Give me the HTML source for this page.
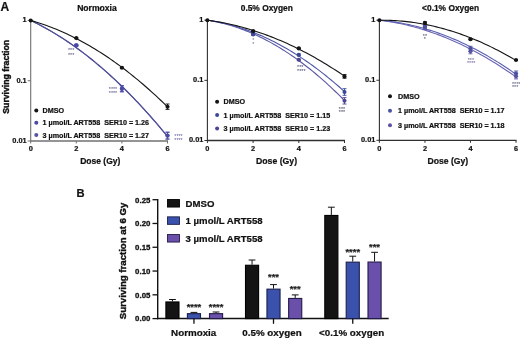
<!DOCTYPE html>
<html><head><meta charset="utf-8"><style>html,body{margin:0;padding:0;background:#fff;}svg{display:block;}</style></head>
<body>
<svg width="520" height="339" viewBox="0 0 520 339" font-family="'Liberation Sans', Arial, sans-serif">
<rect width="520" height="339" fill="#fff"/>
<text x="0.40" y="10.90" font-size="12" text-anchor="start" fill="#111" font-weight="bold" stroke="#111" stroke-width="0.22" >A</text>
<text x="76.60" y="197.40" font-size="11.2" text-anchor="start" fill="#111" font-weight="bold" stroke="#111" stroke-width="0.22" >B</text>
<text x="0.00" y="0.00" font-size="8.7" text-anchor="middle" fill="#111" font-weight="bold" stroke="#111" stroke-width="0.4" transform="translate(9.3,76.8) rotate(-90)">Surviving fraction</text>
<text x="96.95" y="11.00" font-size="8.6" text-anchor="middle" fill="#111" font-weight="bold" stroke="#111" stroke-width="0.22" >Normoxia</text>
<line x1="30.70" y1="19.50" x2="30.70" y2="141.50" stroke="#707070" stroke-width="1.1"/>
<line x1="30.20" y1="141.00" x2="168.00" y2="141.00" stroke="#707070" stroke-width="1.3"/>
<line x1="27.70" y1="20.50" x2="30.70" y2="20.50" stroke="#707070" stroke-width="1"/>
<text x="26.70" y="22.30" font-size="7.4" text-anchor="end" fill="#111" font-weight="bold" stroke="#111" stroke-width="0.22" >1</text>
<line x1="27.70" y1="80.75" x2="30.70" y2="80.75" stroke="#707070" stroke-width="1"/>
<text x="26.70" y="82.55" font-size="7.4" text-anchor="end" fill="#111" font-weight="bold" stroke="#111" stroke-width="0.22" >0.1</text>
<line x1="27.70" y1="141.00" x2="30.70" y2="141.00" stroke="#707070" stroke-width="1"/>
<text x="26.70" y="142.80" font-size="7.4" text-anchor="end" fill="#111" font-weight="bold" stroke="#111" stroke-width="0.22" >0.01</text>
<line x1="30.70" y1="141.00" x2="30.70" y2="143.50" stroke="#707070" stroke-width="1"/>
<text x="30.70" y="151.40" font-size="7.4" text-anchor="middle" fill="#111" font-weight="bold" stroke="#111" stroke-width="0.22" >0</text>
<line x1="76.30" y1="141.00" x2="76.30" y2="143.50" stroke="#707070" stroke-width="1"/>
<text x="76.30" y="151.40" font-size="7.4" text-anchor="middle" fill="#111" font-weight="bold" stroke="#111" stroke-width="0.22" >2</text>
<line x1="121.90" y1="141.00" x2="121.90" y2="143.50" stroke="#707070" stroke-width="1"/>
<text x="121.90" y="151.40" font-size="7.4" text-anchor="middle" fill="#111" font-weight="bold" stroke="#111" stroke-width="0.22" >4</text>
<line x1="167.50" y1="141.00" x2="167.50" y2="143.50" stroke="#707070" stroke-width="1"/>
<text x="167.50" y="151.40" font-size="7.4" text-anchor="middle" fill="#111" font-weight="bold" stroke="#111" stroke-width="0.22" >6</text>
<text x="100.30" y="163.60" font-size="8.5" text-anchor="middle" fill="#111" font-weight="bold" stroke="#111" stroke-width="0.22" >Dose (Gy)</text>
<polyline points="30.70,20.50 32.98,21.59 35.26,22.72 37.54,23.87 39.82,25.05 42.10,26.26 44.38,27.49 46.66,28.76 48.94,30.05 51.22,31.37 53.50,32.73 55.78,34.10 58.06,35.51 60.34,36.95 62.62,38.41 64.90,39.91 67.18,41.43 69.46,42.98 71.74,44.56 74.02,46.16 76.30,47.80 78.58,49.46 80.86,51.16 83.14,52.88 85.42,54.63 87.70,56.41 89.98,58.21 92.26,60.05 94.54,61.91 96.82,63.80 99.10,65.73 101.38,67.67 103.66,69.65 105.94,71.66 108.22,73.69 110.50,75.76 112.78,77.85 115.06,79.97 117.34,82.12 119.62,84.29 121.90,86.50 124.18,88.73 126.46,91.00 128.74,93.29 131.02,95.61 133.30,97.96 135.58,100.33 137.86,102.74 140.14,105.17 142.42,107.63 144.70,110.12 146.98,112.64 149.26,115.19 151.54,117.77 153.82,120.37 156.10,123.01 158.38,125.67 160.66,128.36 162.94,131.08 165.22,133.82 167.50,136.60" fill="none" stroke="#535098" stroke-width="1.1"/>
<polyline points="30.70,20.50 32.98,21.58 35.26,22.69 37.54,23.83 39.82,25.00 42.10,26.20 44.38,27.42 46.66,28.68 48.94,29.96 51.22,31.27 53.50,32.61 55.78,33.98 58.06,35.38 60.34,36.81 62.62,38.26 64.90,39.75 67.18,41.26 69.46,42.80 71.74,44.37 74.02,45.97 76.30,47.60 78.58,49.26 80.86,50.94 83.14,52.66 85.42,54.40 87.70,56.17 89.98,57.97 92.26,59.80 94.54,61.66 96.82,63.55 99.10,65.46 101.38,67.41 103.66,69.38 105.94,71.38 108.22,73.41 110.50,75.47 112.78,77.56 115.06,79.68 117.34,81.82 119.62,84.00 121.90,86.20 124.18,88.43 126.46,90.69 128.74,92.98 131.02,95.30 133.30,97.65 135.58,100.02 137.86,102.43 140.14,104.86 142.42,107.32 144.70,109.81 146.98,112.33 149.26,114.88 151.54,117.46 153.82,120.06 156.10,122.70 158.38,125.36 160.66,128.05 162.94,130.77 165.22,133.52 167.50,136.30" fill="none" stroke="#50509a" stroke-width="1.1"/>
<polyline points="30.70,20.50 32.98,21.15 35.26,21.82 37.54,22.52 39.82,23.25 42.10,24.01 44.38,24.79 46.66,25.60 48.94,26.44 51.22,27.30 53.50,28.19 55.78,29.10 58.06,30.05 60.34,31.02 62.62,32.01 64.90,33.04 67.18,34.09 69.46,35.17 71.74,36.27 74.02,37.40 76.30,38.56 78.58,39.74 80.86,40.95 83.14,42.19 85.42,43.46 87.70,44.75 89.98,46.07 92.26,47.41 94.54,48.78 96.82,50.18 99.10,51.61 101.38,53.06 103.66,54.54 105.94,56.05 108.22,57.58 110.50,59.14 112.78,60.73 115.06,62.34 117.34,63.98 119.62,65.65 121.90,67.34 124.18,69.06 126.46,70.81 128.74,72.58 131.02,74.39 133.30,76.21 135.58,78.07 137.86,79.95 140.14,81.86 142.42,83.79 144.70,85.76 146.98,87.75 149.26,89.76 151.54,91.80 153.82,93.87 156.10,95.97 158.38,98.09 160.66,100.24 162.94,102.42 165.22,104.62 167.50,106.85" fill="none" stroke="#141414" stroke-width="1.1"/>
<path d="M76.30 44.60V46.20M74.30 44.60H78.30M74.30 46.20H78.30" stroke="#5552a8" stroke-width="0.9" fill="none"/>
<path d="M121.90 85.90V91.90M119.90 85.90H123.90M119.90 91.90H123.90" stroke="#5552a8" stroke-width="0.9" fill="none"/>
<path d="M167.50 132.40V139.20M165.50 132.40H169.50M165.50 139.20H169.50" stroke="#5552a8" stroke-width="0.9" fill="none"/>
<path d="M76.30 44.40V46.00M74.30 44.40H78.30M74.30 46.00H78.30" stroke="#4a4aa6" stroke-width="0.9" fill="none"/>
<path d="M121.90 85.60V91.60M119.90 85.60H123.90M119.90 91.60H123.90" stroke="#4a4aa6" stroke-width="0.9" fill="none"/>
<path d="M167.50 132.10V138.90M165.50 132.10H169.50M165.50 138.90H169.50" stroke="#4a4aa6" stroke-width="0.9" fill="none"/>
<path d="M76.30 37.60V38.60M74.30 37.60H78.30M74.30 38.60H78.30" stroke="#141414" stroke-width="0.9" fill="none"/>
<path d="M121.90 67.20V68.40M119.90 67.20H123.90M119.90 68.40H123.90" stroke="#141414" stroke-width="0.9" fill="none"/>
<path d="M167.50 104.00V109.40M165.50 104.00H169.50M165.50 109.40H169.50" stroke="#141414" stroke-width="0.9" fill="none"/>
<circle cx="76.30" cy="45.40" r="2.05" fill="#5552a8"/>
<circle cx="121.90" cy="88.90" r="2.05" fill="#5552a8"/>
<circle cx="167.50" cy="135.80" r="2.05" fill="#5552a8"/>
<circle cx="76.30" cy="45.20" r="2.05" fill="#4a4aa6"/>
<circle cx="121.90" cy="88.60" r="2.05" fill="#4a4aa6"/>
<circle cx="167.50" cy="135.50" r="2.05" fill="#4a4aa6"/>
<circle cx="76.30" cy="38.10" r="2.05" fill="#141414"/>
<circle cx="121.90" cy="67.80" r="2.05" fill="#141414"/>
<circle cx="167.50" cy="106.70" r="2.05" fill="#141414"/>
<circle cx="30.70" cy="20.50" r="2.05" fill="#141414"/>
<circle cx="36.30" cy="110.50" r="2.0" fill="#141414"/>
<text x="42.50" y="113.10" font-size="7.2" text-anchor="start" fill="#111" font-weight="bold" stroke="#111" stroke-width="0.22" xml:space="preserve" style="white-space:pre">DMSO</text>
<circle cx="36.30" cy="122.80" r="2.0" fill="#4a4aa6"/>
<text x="42.50" y="125.40" font-size="7.2" text-anchor="start" fill="#111" font-weight="bold" stroke="#111" stroke-width="0.22" xml:space="preserve" style="white-space:pre">1 µmol/L ART558  SER10 = 1.26</text>
<circle cx="36.30" cy="135.10" r="2.0" fill="#5552a8"/>
<text x="42.50" y="137.70" font-size="7.2" text-anchor="start" fill="#111" font-weight="bold" stroke="#111" stroke-width="0.22" xml:space="preserve" style="white-space:pre">3 µmol/L ART558  SER10 = 1.27</text>
<text x="68.00" y="51.90" font-size="5.4" text-anchor="start" fill="#4a4a78" font-weight="normal"  >***</text>
<text x="68.00" y="56.60" font-size="5.4" text-anchor="start" fill="#4a4a78" font-weight="normal"  >***</text>
<text x="108.80" y="90.90" font-size="5.4" text-anchor="start" fill="#4a4a88" font-weight="normal"  >****</text>
<text x="108.80" y="95.10" font-size="5.4" text-anchor="start" fill="#4a4a88" font-weight="normal"  >****</text>
<text x="174.30" y="137.60" font-size="5.4" text-anchor="start" fill="#5a5aa0" font-weight="normal"  >****</text>
<text x="174.30" y="141.60" font-size="5.4" text-anchor="start" fill="#5a5aa0" font-weight="normal"  >****</text>
<text x="266.80" y="11.00" font-size="8.4" text-anchor="middle" fill="#111" font-weight="bold" stroke="#111" stroke-width="0.22" >0.5% Oxygen</text>
<line x1="207.40" y1="19.20" x2="207.40" y2="141.00" stroke="#303030" stroke-width="1.1"/>
<line x1="206.90" y1="140.50" x2="345.00" y2="140.50" stroke="#303030" stroke-width="1.3"/>
<line x1="204.40" y1="20.20" x2="207.40" y2="20.20" stroke="#303030" stroke-width="1"/>
<text x="203.40" y="22.00" font-size="7.4" text-anchor="end" fill="#111" font-weight="bold" stroke="#111" stroke-width="0.22" >1</text>
<line x1="204.40" y1="80.35" x2="207.40" y2="80.35" stroke="#303030" stroke-width="1"/>
<text x="203.40" y="82.15" font-size="7.4" text-anchor="end" fill="#111" font-weight="bold" stroke="#111" stroke-width="0.22" >0.1</text>
<line x1="204.40" y1="140.50" x2="207.40" y2="140.50" stroke="#303030" stroke-width="1"/>
<text x="203.40" y="142.30" font-size="7.4" text-anchor="end" fill="#111" font-weight="bold" stroke="#111" stroke-width="0.22" >0.01</text>
<line x1="207.40" y1="140.50" x2="207.40" y2="143.00" stroke="#303030" stroke-width="1"/>
<text x="207.40" y="150.90" font-size="7.4" text-anchor="middle" fill="#111" font-weight="bold" stroke="#111" stroke-width="0.22" >0</text>
<line x1="253.10" y1="140.50" x2="253.10" y2="143.00" stroke="#303030" stroke-width="1"/>
<text x="253.10" y="150.90" font-size="7.4" text-anchor="middle" fill="#111" font-weight="bold" stroke="#111" stroke-width="0.22" >2</text>
<line x1="298.80" y1="140.50" x2="298.80" y2="143.00" stroke="#303030" stroke-width="1"/>
<text x="298.80" y="150.90" font-size="7.4" text-anchor="middle" fill="#111" font-weight="bold" stroke="#111" stroke-width="0.22" >4</text>
<line x1="344.50" y1="140.50" x2="344.50" y2="143.00" stroke="#303030" stroke-width="1"/>
<text x="344.50" y="150.90" font-size="7.4" text-anchor="middle" fill="#111" font-weight="bold" stroke="#111" stroke-width="0.22" >6</text>
<text x="276.55" y="164.20" font-size="8.7" text-anchor="middle" fill="#111" font-weight="bold" stroke="#111" stroke-width="0.22" >Dose (Gy)</text>
<polyline points="207.40,20.20 209.69,20.56 211.97,20.96 214.25,21.39 216.54,21.85 218.83,22.35 221.11,22.88 223.40,23.44 225.68,24.04 227.97,24.66 230.25,25.33 232.54,26.02 234.82,26.75 237.11,27.51 239.39,28.30 241.68,29.13 243.96,29.99 246.25,30.88 248.53,31.81 250.81,32.77 253.10,33.76 255.39,34.78 257.67,35.84 259.96,36.93 262.24,38.06 264.52,39.21 266.81,40.40 269.10,41.63 271.38,42.88 273.67,44.17 275.95,45.50 278.24,46.85 280.52,48.24 282.81,49.66 285.09,51.12 287.38,52.61 289.66,54.13 291.95,55.68 294.23,57.27 296.51,58.89 298.80,60.54 301.09,62.23 303.37,63.95 305.65,65.70 307.94,67.49 310.23,69.30 312.51,71.16 314.80,73.04 317.08,74.96 319.37,76.91 321.65,78.89 323.94,80.91 326.22,82.96 328.50,85.04 330.79,87.16 333.08,89.31 335.36,91.49 337.64,93.71 339.93,95.96 342.22,98.24 344.50,100.55" fill="none" stroke="#5a56a4" stroke-width="1.1"/>
<polyline points="207.40,20.20 209.69,20.53 211.97,20.88 214.25,21.27 216.54,21.68 218.83,22.13 221.11,22.60 223.40,23.10 225.68,23.64 227.97,24.20 230.25,24.79 232.54,25.41 234.82,26.06 237.11,26.73 239.39,27.44 241.68,28.18 243.96,28.94 246.25,29.74 248.53,30.56 250.81,31.42 253.10,32.30 255.39,33.21 257.67,34.15 259.96,35.12 262.24,36.12 264.52,37.15 266.81,38.21 269.10,39.30 271.38,40.42 273.67,41.56 275.95,42.74 278.24,43.94 280.52,45.18 282.81,46.44 285.09,47.73 287.38,49.05 289.66,50.40 291.95,51.78 294.23,53.19 296.51,54.63 298.80,56.10 301.09,57.60 303.37,59.12 305.65,60.68 307.94,62.26 310.23,63.88 312.51,65.52 314.80,67.19 317.08,68.90 319.37,70.63 321.65,72.39 323.94,74.18 326.22,76.00 328.50,77.84 330.79,79.72 333.08,81.63 335.36,83.56 337.64,85.53 339.93,87.52 342.22,89.55 344.50,91.60" fill="none" stroke="#4a56a6" stroke-width="1.1"/>
<polyline points="207.40,20.20 209.69,20.51 211.97,20.84 214.25,21.20 216.54,21.57 218.83,21.96 221.11,22.38 223.40,22.82 225.68,23.28 227.97,23.76 230.25,24.26 232.54,24.78 234.82,25.32 237.11,25.88 239.39,26.47 241.68,27.07 243.96,27.70 246.25,28.35 248.53,29.02 250.81,29.71 253.10,30.42 255.39,31.15 257.67,31.91 259.96,32.68 262.24,33.48 264.52,34.29 266.81,35.13 269.10,35.99 271.38,36.87 273.67,37.77 275.95,38.70 278.24,39.64 280.52,40.60 282.81,41.59 285.09,42.60 287.38,43.62 289.66,44.67 291.95,45.74 294.23,46.83 296.51,47.95 298.80,49.08 301.09,50.23 303.37,51.41 305.65,52.61 307.94,53.82 310.23,55.06 312.51,56.32 314.80,57.60 317.08,58.90 319.37,60.23 321.65,61.57 323.94,62.94 326.22,64.32 328.50,65.73 330.79,67.16 333.08,68.61 335.36,70.08 337.64,71.57 339.93,73.08 342.22,74.62 344.50,76.17" fill="none" stroke="#141414" stroke-width="1.1"/>
<path d="M253.10 33.70V35.30M251.10 33.70H255.10M251.10 35.30H255.10" stroke="#4a4494" stroke-width="0.9" fill="none"/>
<path d="M298.80 59.00V60.60M296.80 59.00H300.80M296.80 60.60H300.80" stroke="#4a4494" stroke-width="0.9" fill="none"/>
<path d="M344.50 97.60V104.00M342.50 97.60H346.50M342.50 104.00H346.50" stroke="#4a4494" stroke-width="0.9" fill="none"/>
<path d="M253.10 32.70V34.30M251.10 32.70H255.10M251.10 34.30H255.10" stroke="#3a4696" stroke-width="0.9" fill="none"/>
<path d="M298.80 54.10V55.70M296.80 54.10H300.80M296.80 55.70H300.80" stroke="#3a4696" stroke-width="0.9" fill="none"/>
<path d="M344.50 88.70V95.30M342.50 88.70H346.50M342.50 95.30H346.50" stroke="#3a4696" stroke-width="0.9" fill="none"/>
<path d="M253.10 30.60V31.60M251.10 30.60H255.10M251.10 31.60H255.10" stroke="#141414" stroke-width="0.9" fill="none"/>
<path d="M298.80 47.90V48.90M296.80 47.90H300.80M296.80 48.90H300.80" stroke="#141414" stroke-width="0.9" fill="none"/>
<path d="M344.50 74.60V78.20M342.50 74.60H346.50M342.50 78.20H346.50" stroke="#141414" stroke-width="0.9" fill="none"/>
<circle cx="253.10" cy="34.50" r="2.05" fill="#4a4494"/>
<circle cx="298.80" cy="59.80" r="2.05" fill="#4a4494"/>
<circle cx="344.50" cy="100.80" r="2.05" fill="#4a4494"/>
<circle cx="253.10" cy="33.50" r="2.05" fill="#3a4696"/>
<circle cx="298.80" cy="54.90" r="2.05" fill="#3a4696"/>
<circle cx="344.50" cy="92.00" r="2.05" fill="#3a4696"/>
<circle cx="253.10" cy="31.10" r="2.05" fill="#141414"/>
<circle cx="298.80" cy="48.40" r="2.05" fill="#141414"/>
<circle cx="344.50" cy="76.40" r="2.05" fill="#141414"/>
<circle cx="207.40" cy="20.20" r="2.05" fill="#141414"/>
<circle cx="217.10" cy="101.70" r="2.0" fill="#141414"/>
<text x="223.60" y="104.30" font-size="7.2" text-anchor="start" fill="#111" font-weight="bold" stroke="#111" stroke-width="0.22" xml:space="preserve" style="white-space:pre">DMSO</text>
<circle cx="217.10" cy="115.10" r="2.0" fill="#3a4696"/>
<text x="223.60" y="117.70" font-size="7.2" text-anchor="start" fill="#111" font-weight="bold" stroke="#111" stroke-width="0.22" xml:space="preserve" style="white-space:pre">1 µmol/L ART558  SER10 = 1.15</text>
<circle cx="217.10" cy="128.50" r="2.0" fill="#4a4494"/>
<text x="223.60" y="131.10" font-size="7.2" text-anchor="start" fill="#111" font-weight="bold" stroke="#111" stroke-width="0.22" xml:space="preserve" style="white-space:pre">3 µmol/L ART558  SER10 = 1.23</text>
<text x="253.30" y="42.20" font-size="5.4" text-anchor="middle" fill="#6a6a9a" font-weight="normal"  >*</text>
<text x="253.30" y="46.10" font-size="5.4" text-anchor="middle" fill="#6a6a9a" font-weight="normal"  >*</text>
<text x="297.10" y="69.10" font-size="5.4" text-anchor="start" fill="#3a3a6a" font-weight="normal"  >***</text>
<text x="297.10" y="72.70" font-size="5.4" text-anchor="start" fill="#3a3a6a" font-weight="normal"  >****</text>
<text x="338.80" y="111.20" font-size="5.4" text-anchor="start" fill="#333355" font-weight="normal"  >***</text>
<text x="338.80" y="114.30" font-size="5.4" text-anchor="start" fill="#333355" font-weight="normal"  >***</text>
<text x="450.60" y="11.00" font-size="8.4" text-anchor="middle" fill="#111" font-weight="bold" stroke="#111" stroke-width="0.22" >&lt;0.1% Oxygen</text>
<line x1="379.40" y1="19.20" x2="379.40" y2="140.80" stroke="#303030" stroke-width="1.1"/>
<line x1="378.90" y1="140.30" x2="516.52" y2="140.30" stroke="#303030" stroke-width="1.3"/>
<line x1="376.40" y1="20.20" x2="379.40" y2="20.20" stroke="#303030" stroke-width="1"/>
<text x="375.40" y="22.00" font-size="7.4" text-anchor="end" fill="#111" font-weight="bold" stroke="#111" stroke-width="0.22" >1</text>
<line x1="376.40" y1="80.25" x2="379.40" y2="80.25" stroke="#303030" stroke-width="1"/>
<text x="375.40" y="82.05" font-size="7.4" text-anchor="end" fill="#111" font-weight="bold" stroke="#111" stroke-width="0.22" >0.1</text>
<line x1="376.40" y1="140.30" x2="379.40" y2="140.30" stroke="#303030" stroke-width="1"/>
<text x="375.40" y="142.10" font-size="7.4" text-anchor="end" fill="#111" font-weight="bold" stroke="#111" stroke-width="0.22" >0.01</text>
<line x1="379.40" y1="140.30" x2="379.40" y2="142.80" stroke="#303030" stroke-width="1"/>
<text x="379.40" y="150.70" font-size="7.4" text-anchor="middle" fill="#111" font-weight="bold" stroke="#111" stroke-width="0.22" >0</text>
<line x1="424.94" y1="140.30" x2="424.94" y2="142.80" stroke="#303030" stroke-width="1"/>
<text x="424.94" y="150.70" font-size="7.4" text-anchor="middle" fill="#111" font-weight="bold" stroke="#111" stroke-width="0.22" >2</text>
<line x1="470.48" y1="140.30" x2="470.48" y2="142.80" stroke="#303030" stroke-width="1"/>
<text x="470.48" y="150.70" font-size="7.4" text-anchor="middle" fill="#111" font-weight="bold" stroke="#111" stroke-width="0.22" >4</text>
<line x1="516.02" y1="140.30" x2="516.02" y2="142.80" stroke="#303030" stroke-width="1"/>
<text x="516.02" y="150.70" font-size="7.4" text-anchor="middle" fill="#111" font-weight="bold" stroke="#111" stroke-width="0.22" >6</text>
<text x="447.91" y="164.00" font-size="8.6" text-anchor="middle" fill="#111" font-weight="bold" stroke="#111" stroke-width="0.22" >Dose (Gy)</text>
<polyline points="379.40,20.20 381.68,20.48 383.95,20.79 386.23,21.12 388.51,21.47 390.78,21.84 393.06,22.23 395.34,22.65 397.62,23.09 399.89,23.55 402.17,24.04 404.45,24.55 406.72,25.08 409.00,25.63 411.28,26.21 413.55,26.80 415.83,27.42 418.11,28.07 420.39,28.73 422.66,29.42 424.94,30.13 427.22,30.86 429.49,31.62 431.77,32.40 434.05,33.20 436.32,34.02 438.60,34.87 440.88,35.74 443.16,36.63 445.43,37.54 447.71,38.47 449.99,39.43 452.26,40.41 454.54,41.42 456.82,42.44 459.09,43.49 461.37,44.56 463.65,45.65 465.93,46.77 468.20,47.91 470.48,49.07 472.76,50.25 475.03,51.46 477.31,52.69 479.59,53.94 481.87,55.21 484.14,56.51 486.42,57.82 488.70,59.16 490.97,60.53 493.25,61.91 495.53,63.32 497.80,64.75 500.08,66.21 502.36,67.68 504.63,69.18 506.91,70.70 509.19,72.25 511.47,73.81 513.74,75.40 516.02,77.01" fill="none" stroke="#6c66b4" stroke-width="1.1"/>
<polyline points="379.40,20.20 381.68,20.40 383.95,20.63 386.23,20.87 388.51,21.15 390.78,21.44 393.06,21.76 395.34,22.10 397.62,22.47 399.89,22.86 402.17,23.28 404.45,23.72 406.72,24.18 409.00,24.66 411.28,25.17 413.55,25.71 415.83,26.26 418.11,26.85 420.39,27.45 422.66,28.08 424.94,28.73 427.22,29.41 429.49,30.11 431.77,30.83 434.05,31.58 436.32,32.35 438.60,33.14 440.88,33.96 443.16,34.81 445.43,35.67 447.71,36.56 449.99,37.48 452.26,38.41 454.54,39.37 456.82,40.36 459.09,41.37 461.37,42.40 463.65,43.46 465.93,44.54 468.20,45.64 470.48,46.77 472.76,47.92 475.03,49.09 477.31,50.29 479.59,51.52 481.87,52.76 484.14,54.03 486.42,55.33 488.70,56.64 490.97,57.99 493.25,59.35 495.53,60.74 497.80,62.15 500.08,63.59 502.36,65.05 504.63,66.53 506.91,68.04 509.19,69.57 511.47,71.13 513.74,72.71 516.02,74.31" fill="none" stroke="#5a60b0" stroke-width="1.1"/>
<polyline points="379.40,20.20 381.68,20.19 383.95,20.20 386.23,20.24 388.51,20.30 390.78,20.38 393.06,20.48 395.34,20.61 397.62,20.76 399.89,20.94 402.17,21.14 404.45,21.36 406.72,21.60 409.00,21.87 411.28,22.16 413.55,22.47 415.83,22.81 418.11,23.17 420.39,23.55 422.66,23.96 424.94,24.38 427.22,24.84 429.49,25.31 431.77,25.81 434.05,26.33 436.32,26.88 438.60,27.44 440.88,28.03 443.16,28.65 445.43,29.28 447.71,29.94 449.99,30.63 452.26,31.33 454.54,32.06 456.82,32.82 459.09,33.59 461.37,34.39 463.65,35.21 465.93,36.06 468.20,36.92 470.48,37.82 472.76,38.73 475.03,39.67 477.31,40.63 479.59,41.61 481.87,42.62 484.14,43.65 486.42,44.70 488.70,45.78 490.97,46.88 493.25,48.00 495.53,49.14 497.80,50.31 500.08,51.51 502.36,52.72 504.63,53.96 506.91,55.22 509.19,56.50 511.47,57.81 513.74,59.14 516.02,60.49" fill="none" stroke="#141414" stroke-width="1.1"/>
<path d="M424.94 26.80V29.20M422.94 26.80H426.94M422.94 29.20H426.94" stroke="#5a54a2" stroke-width="0.9" fill="none"/>
<path d="M470.48 48.60V53.80M468.48 48.60H472.48M468.48 53.80H472.48" stroke="#5a54a2" stroke-width="0.9" fill="none"/>
<path d="M516.02 73.70V78.90M514.02 73.70H518.02M514.02 78.90H518.02" stroke="#5a54a2" stroke-width="0.9" fill="none"/>
<path d="M424.94 25.40V27.80M422.94 25.40H426.94M422.94 27.80H426.94" stroke="#4a52a0" stroke-width="0.9" fill="none"/>
<path d="M470.48 46.30V51.50M468.48 46.30H472.48M468.48 51.50H472.48" stroke="#4a52a0" stroke-width="0.9" fill="none"/>
<path d="M516.02 71.00V76.20M514.02 71.00H518.02M514.02 76.20H518.02" stroke="#4a52a0" stroke-width="0.9" fill="none"/>
<path d="M424.94 21.90V23.90M422.94 21.90H426.94M422.94 23.90H426.94" stroke="#141414" stroke-width="0.9" fill="none"/>
<path d="M470.48 38.80V39.80M468.48 38.80H472.48M468.48 39.80H472.48" stroke="#141414" stroke-width="0.9" fill="none"/>
<path d="M516.02 59.50V60.50M514.02 59.50H518.02M514.02 60.50H518.02" stroke="#141414" stroke-width="0.9" fill="none"/>
<circle cx="424.94" cy="28.00" r="2.05" fill="#5a54a2"/>
<circle cx="470.48" cy="51.20" r="2.05" fill="#5a54a2"/>
<circle cx="516.02" cy="76.30" r="2.05" fill="#5a54a2"/>
<circle cx="424.94" cy="26.60" r="2.05" fill="#4a52a0"/>
<circle cx="470.48" cy="48.90" r="2.05" fill="#4a52a0"/>
<circle cx="516.02" cy="73.60" r="2.05" fill="#4a52a0"/>
<circle cx="424.94" cy="22.90" r="2.05" fill="#141414"/>
<circle cx="470.48" cy="39.30" r="2.05" fill="#141414"/>
<circle cx="516.02" cy="60.00" r="2.05" fill="#141414"/>
<circle cx="379.40" cy="20.20" r="2.05" fill="#141414"/>
<circle cx="390.00" cy="96.20" r="2.0" fill="#141414"/>
<text x="398.00" y="98.80" font-size="7.2" text-anchor="start" fill="#111" font-weight="bold" stroke="#111" stroke-width="0.22" xml:space="preserve" style="white-space:pre">DMSO</text>
<circle cx="390.00" cy="110.70" r="2.0" fill="#4a52a0"/>
<text x="398.00" y="113.30" font-size="7.2" text-anchor="start" fill="#111" font-weight="bold" stroke="#111" stroke-width="0.22" xml:space="preserve" style="white-space:pre">1 µmol/L ART558  SER10 = 1.17</text>
<circle cx="390.00" cy="125.20" r="2.0" fill="#5a54a2"/>
<text x="398.00" y="127.80" font-size="7.2" text-anchor="start" fill="#111" font-weight="bold" stroke="#111" stroke-width="0.22" xml:space="preserve" style="white-space:pre">3 µmol/L ART558  SER10 = 1.18</text>
<text x="424.90" y="37.60" font-size="5.4" text-anchor="middle" fill="#3a3a5a" font-weight="normal"  >**</text>
<text x="424.70" y="41.40" font-size="5.4" text-anchor="middle" fill="#3a3a5a" font-weight="normal"  >*</text>
<text x="467.70" y="61.50" font-size="5.4" text-anchor="start" fill="#5a6090" font-weight="normal"  >***</text>
<text x="467.00" y="65.10" font-size="5.4" text-anchor="start" fill="#6a5aa0" font-weight="normal"  >****</text>
<text x="512.00" y="86.30" font-size="5.4" text-anchor="start" fill="#4a4a7a" font-weight="normal"  >****</text>
<text x="512.00" y="89.40" font-size="5.4" text-anchor="start" fill="#4a4a7a" font-weight="normal"  >***</text>
<line x1="157.7" y1="199.00" x2="157.7" y2="319.30" stroke="#111" stroke-width="1.4"/>
<line x1="157.0" y1="318.6" x2="388.7" y2="318.6" stroke="#111" stroke-width="1.5"/>
<line x1="152.5" y1="318.60" x2="157.7" y2="318.60" stroke="#111" stroke-width="1.3"/>
<text x="150.40" y="321.40" font-size="7.85" text-anchor="end" fill="#111" font-weight="bold" stroke="#111" stroke-width="0.3" >0.00</text>
<line x1="152.5" y1="294.82" x2="157.7" y2="294.82" stroke="#111" stroke-width="1.3"/>
<text x="150.40" y="297.62" font-size="7.85" text-anchor="end" fill="#111" font-weight="bold" stroke="#111" stroke-width="0.3" >0.05</text>
<line x1="152.5" y1="271.04" x2="157.7" y2="271.04" stroke="#111" stroke-width="1.3"/>
<text x="150.40" y="273.84" font-size="7.85" text-anchor="end" fill="#111" font-weight="bold" stroke="#111" stroke-width="0.3" >0.10</text>
<line x1="152.5" y1="247.26" x2="157.7" y2="247.26" stroke="#111" stroke-width="1.3"/>
<text x="150.40" y="250.06" font-size="7.85" text-anchor="end" fill="#111" font-weight="bold" stroke="#111" stroke-width="0.3" >0.15</text>
<line x1="152.5" y1="223.48" x2="157.7" y2="223.48" stroke="#111" stroke-width="1.3"/>
<text x="150.40" y="226.28" font-size="7.85" text-anchor="end" fill="#111" font-weight="bold" stroke="#111" stroke-width="0.3" >0.20</text>
<line x1="152.5" y1="199.70" x2="157.7" y2="199.70" stroke="#111" stroke-width="1.3"/>
<text x="150.40" y="202.50" font-size="7.85" text-anchor="end" fill="#111" font-weight="bold" stroke="#111" stroke-width="0.3" >0.25</text>
<text x="0.00" y="0.00" font-size="9.65" text-anchor="middle" fill="#111" font-weight="bold" stroke="#111" stroke-width="0.4" transform="translate(126.4,260.9) rotate(-90)">Surviving fraction at 6 Gy</text>
<line x1="172.45" y1="299.50" x2="172.45" y2="301.40" stroke="#111" stroke-width="1"/>
<line x1="169.05" y1="299.50" x2="175.85" y2="299.50" stroke="#111" stroke-width="1"/>
<rect x="165.90" y="301.95" width="13.10" height="16.65" fill="#141414" stroke="#000" stroke-width="1.1"/>
<line x1="193.95" y1="312.40" x2="193.95" y2="313.10" stroke="#111" stroke-width="1"/>
<line x1="190.55" y1="312.40" x2="197.35" y2="312.40" stroke="#111" stroke-width="1"/>
<rect x="187.40" y="313.65" width="13.10" height="4.95" fill="#3a52ac" stroke="#1a1f4a" stroke-width="1.1"/>
<text x="193.95" y="309.90" font-size="9.4" text-anchor="middle" fill="#1a1a1a" font-weight="bold" stroke="#1a1a1a" stroke-width="0.22" >****</text>
<line x1="216.05" y1="312.00" x2="216.05" y2="313.10" stroke="#111" stroke-width="1"/>
<line x1="212.65" y1="312.00" x2="219.45" y2="312.00" stroke="#111" stroke-width="1"/>
<rect x="209.50" y="313.65" width="13.10" height="4.95" fill="#6a4fab" stroke="#231a48" stroke-width="1.1"/>
<text x="216.05" y="309.90" font-size="9.4" text-anchor="middle" fill="#1a1a1a" font-weight="bold" stroke="#1a1a1a" stroke-width="0.22" >****</text>
<line x1="193.95" y1="318.6" x2="193.95" y2="323.8" stroke="#111" stroke-width="1.3"/>
<text x="193.70" y="335.60" font-size="9.8" text-anchor="middle" fill="#111" font-weight="bold" stroke="#111" stroke-width="0.22" >Normoxia</text>
<line x1="252.05" y1="260.00" x2="252.05" y2="264.70" stroke="#111" stroke-width="1"/>
<line x1="248.65" y1="260.00" x2="255.45" y2="260.00" stroke="#111" stroke-width="1"/>
<rect x="245.50" y="265.25" width="13.10" height="53.35" fill="#141414" stroke="#000" stroke-width="1.1"/>
<line x1="273.50" y1="284.60" x2="273.50" y2="288.60" stroke="#111" stroke-width="1"/>
<line x1="270.10" y1="284.60" x2="276.90" y2="284.60" stroke="#111" stroke-width="1"/>
<rect x="266.95" y="289.15" width="13.10" height="29.45" fill="#3a52ac" stroke="#1a1f4a" stroke-width="1.1"/>
<text x="273.50" y="280.40" font-size="9.4" text-anchor="middle" fill="#1a1a1a" font-weight="bold" stroke="#1a1a1a" stroke-width="0.22" >***</text>
<line x1="295.20" y1="294.90" x2="295.20" y2="297.90" stroke="#111" stroke-width="1"/>
<line x1="291.80" y1="294.90" x2="298.60" y2="294.90" stroke="#111" stroke-width="1"/>
<rect x="288.65" y="298.45" width="13.10" height="20.15" fill="#6a4fab" stroke="#231a48" stroke-width="1.1"/>
<text x="295.20" y="291.50" font-size="9.4" text-anchor="middle" fill="#1a1a1a" font-weight="bold" stroke="#1a1a1a" stroke-width="0.22" >***</text>
<line x1="273.5" y1="318.6" x2="273.5" y2="323.8" stroke="#111" stroke-width="1.3"/>
<text x="272.00" y="335.60" font-size="9.8" text-anchor="middle" fill="#111" font-weight="bold" stroke="#111" stroke-width="0.22" >0.5% oxygen</text>
<line x1="331.35" y1="207.20" x2="331.35" y2="214.90" stroke="#111" stroke-width="1"/>
<line x1="327.95" y1="207.20" x2="334.75" y2="207.20" stroke="#111" stroke-width="1"/>
<rect x="324.80" y="215.45" width="13.10" height="103.15" fill="#141414" stroke="#000" stroke-width="1.1"/>
<line x1="352.75" y1="256.20" x2="352.75" y2="261.60" stroke="#111" stroke-width="1"/>
<line x1="349.35" y1="256.20" x2="356.15" y2="256.20" stroke="#111" stroke-width="1"/>
<rect x="346.20" y="262.15" width="13.10" height="56.45" fill="#3a52ac" stroke="#1a1f4a" stroke-width="1.1"/>
<text x="352.75" y="255.00" font-size="9.4" text-anchor="middle" fill="#1a1a1a" font-weight="bold" stroke="#1a1a1a" stroke-width="0.22" >****</text>
<line x1="374.55" y1="252.30" x2="374.55" y2="261.50" stroke="#111" stroke-width="1"/>
<line x1="371.15" y1="252.30" x2="377.95" y2="252.30" stroke="#111" stroke-width="1"/>
<rect x="368.00" y="262.05" width="13.10" height="56.55" fill="#6a4fab" stroke="#231a48" stroke-width="1.1"/>
<text x="374.55" y="249.90" font-size="9.4" text-anchor="middle" fill="#1a1a1a" font-weight="bold" stroke="#1a1a1a" stroke-width="0.22" >***</text>
<line x1="352.75" y1="318.6" x2="352.75" y2="323.8" stroke="#111" stroke-width="1.3"/>
<text x="351.60" y="335.60" font-size="9.8" text-anchor="middle" fill="#111" font-weight="bold" stroke="#111" stroke-width="0.22" >&lt;0.1% oxygen</text>
<rect x="167.5" y="199.55" width="12" height="7.5" fill="#141414" stroke="#000" stroke-width="0.9"/>
<text x="185.60" y="206.70" font-size="9.6" text-anchor="start" fill="#111" font-weight="bold" stroke="#111" stroke-width="0.22" >DMSO</text>
<rect x="167.5" y="216.85" width="12" height="7.5" fill="#3a52ac" stroke="#1a1f4a" stroke-width="0.9"/>
<text x="185.60" y="224.00" font-size="9.6" text-anchor="start" fill="#111" font-weight="bold" stroke="#111" stroke-width="0.22" >1 µmol/L ART558</text>
<rect x="167.5" y="234.55" width="12" height="7.5" fill="#6a4fab" stroke="#231a48" stroke-width="0.9"/>
<text x="185.60" y="241.70" font-size="9.6" text-anchor="start" fill="#111" font-weight="bold" stroke="#111" stroke-width="0.22" >3 µmol/L ART558</text>
</svg>
</body></html>
